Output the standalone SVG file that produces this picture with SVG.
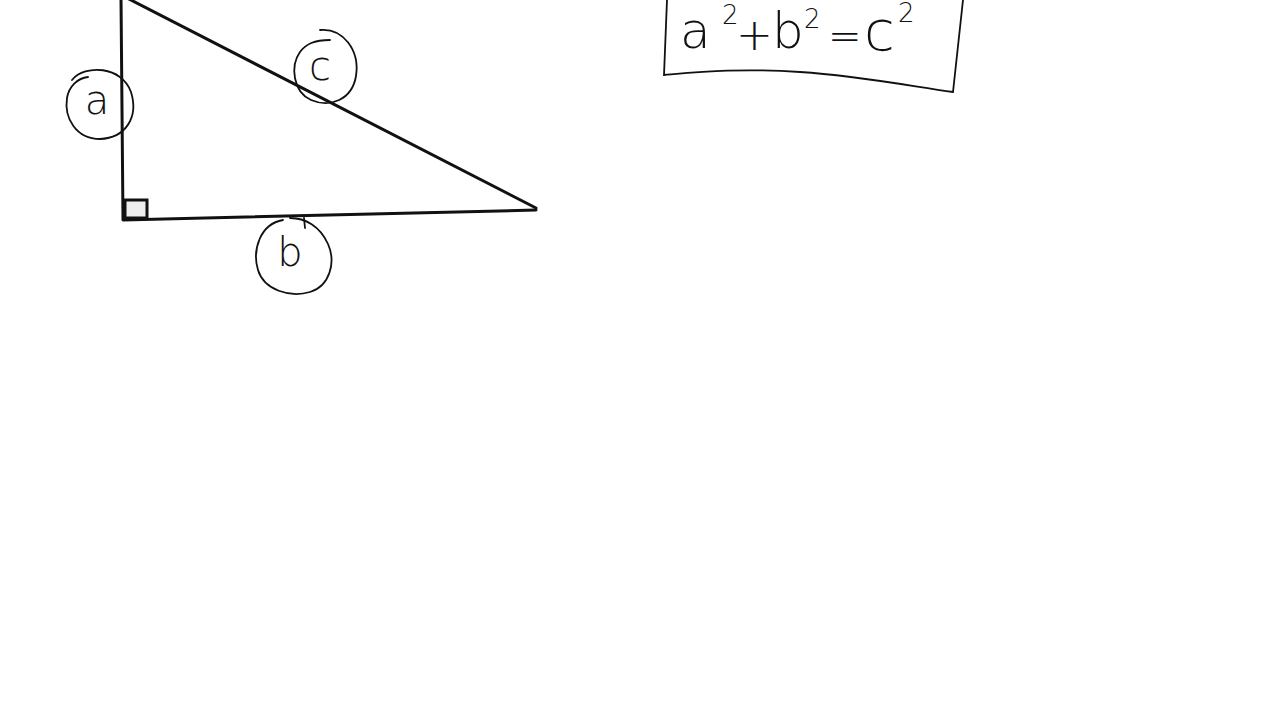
<svg xmlns="http://www.w3.org/2000/svg" width="1280" height="720" viewBox="0 0 1280 720">
<style>
.ln{fill:none;stroke:#111;stroke-width:3;stroke-linecap:round;stroke-linejoin:round}
.th{fill:none;stroke:#111;stroke-width:1.8;stroke-linecap:round}
.hw{font-family:"DejaVu Sans","Liberation Sans",sans-serif;font-weight:300;fill:#111}
</style>
<rect width="1280" height="720" fill="#fff"/>
<g id="triangle">
<path class="ln" d="M121,-2 L123,220 L536,210"/>
<path class="ln" d="M127,-2 L536,208"/>
<rect x="125" y="200" width="22" height="18" fill="#eee" stroke="#111" stroke-width="3"/>
</g>
<g id="label-a">
<path class="th" d="M72,80 C85,64 122,66 131,92 C139,118 125,138 100,139 C76,139 64,118 67,98 C69,86 78,78 88,77"/>
<text class="hw" x="97" y="114" font-size="40" text-anchor="middle">a</text>
</g>
<g id="label-c">
<path class="th" d="M320,30 C343,28 360,50 356,76 C352,100 330,108 311,100 C293,92 290,66 300,52 C306,44 314,40 330,40"/>
<text class="hw" x="320" y="80" font-size="40" text-anchor="middle">c</text>
</g>
<g id="label-b">
<path class="th" d="M283,220 C260,224 252,250 258,270 C264,290 290,298 310,292 C330,286 336,262 328,244 C320,226 305,218 290,218"/>
<path class="th" d="M304,218 L305,228"/>
<text class="hw" x="290" y="266" font-size="40" text-anchor="middle">b</text>
</g>
<g id="formula">
<path class="th" d="M667,0 L664,75 C700,72 740,68 800,72 C860,76 910,86 953,92 L963,0"/>
<text class="hw" font-size="50" y="48"><tspan x="680">a</tspan><tspan x="722" y="24" font-size="26">2</tspan><tspan x="736" y="50" font-size="44">+</tspan><tspan x="772" y="48">b</tspan><tspan x="804" y="28" font-size="26">2</tspan><tspan x="828" y="50" font-size="40">=</tspan><tspan x="864" y="50" font-size="56">c</tspan><tspan x="898" y="22" font-size="26">2</tspan></text>
</g>
</svg>
